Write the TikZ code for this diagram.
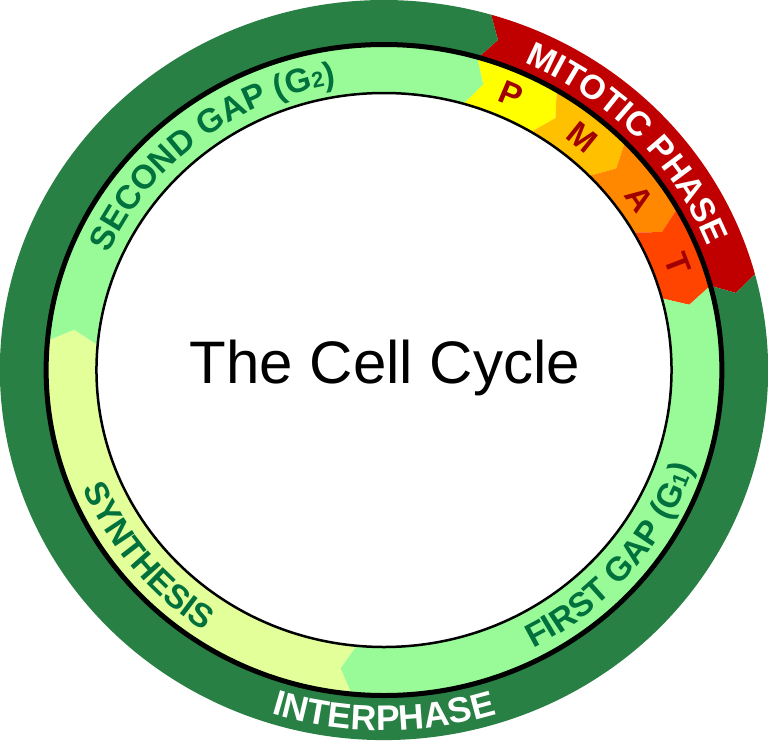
\documentclass[tikz,border=0pt]{standalone}
\usepackage{fontspec}
\setmainfont{Liberation Sans}
\usetikzlibrary{decorations.text}
\definecolor{dkgreen}{RGB}{41,128,69}
\definecolor{ltgreen}{RGB}{152,251,152}
\definecolor{sgreen}{RGB}{226,255,153}
\definecolor{mred}{RGB}{192,0,0}
\definecolor{pyel}{RGB}{255,255,0}
\definecolor{morange}{RGB}{255,192,0}
\definecolor{aorange}{RGB}{255,136,0}
\definecolor{tred}{RGB}{255,68,0}
\definecolor{txtgreen}{RGB}{0,112,60}
\definecolor{txtred}{RGB}{160,0,0}
\newcommand\outerfnt{\bfseries\fontsize{34}{34}\selectfont}
\newcommand\interfnt{\bfseries\fontsize{35.5}{35.5}\selectfont}
\newcommand\innerfnt{\bfseries\fontsize{33.5}{33.5}\selectfont}
\newcommand\innersub{\bfseries\fontsize{22}{22}\selectfont}
% color, start angle, end angle, inner r, outer r, tip
\newcommand\ringseg[6]{%
  \fill[#1] (#2:#5) arc[start angle=#2, end angle=#3, radius=#5]
    -- ({#3-#6}:{(#4+#5)/2}) -- (#3:#4)
    arc[start angle=#3, end angle=#2, radius=#4]
    -- ({#2-#6}:{(#4+#5)/2}) -- cycle;}
\tikzset{
  pmat/.style={font=\bfseries\fontsize{33}{33}\selectfont, text=txtred, inner sep=0pt},
  ringtext/.style={decorate, decoration={text along path, text align=center, text color=#1}},
  title/.style={font=\fontsize{60}{60}\selectfont, anchor=base, inner sep=0pt}
}
\begin{document}
\begin{tikzpicture}[x=1pt,y=1pt]
\useasboundingbox (-384,-370) rectangle (384,370);
\begin{scope}[xscale=1.038]
  % outer ring
  \ringseg{mred}{73.8}{15}{325.5}{370}{2.2}
  \ringseg{dkgreen}{15}{-286.2}{325.5}{370}{2.2}
  % inner ring
  \ringseg{pyel}{74}{59.25}{277}{325.5}{2.5}
  \ringseg{morange}{59.25}{44.5}{277}{325.5}{2.5}
  \ringseg{aorange}{44.5}{29.75}{277}{325.5}{2.5}
  \ringseg{tred}{29.75}{15}{277}{325.5}{2.5}
  \ringseg{ltgreen}{15}{-95.5}{277}{325.5}{2.5}
  \ringseg{sgreen}{-95.5}{-185.2}{277}{325.5}{2.5}
  \ringseg{ltgreen}{-185.2}{-286}{277}{325.5}{2.5}
  % borders
  \draw[line width=5pt] (0,0) circle[radius=325.5];
  \draw[line width=2.5pt, fill=white] (0,0) circle[radius=277];
  % ring texts
  \path[ringtext=white, decoration={text={|\outerfnt|MITOTIC PHASE}}]
    (83.7:335.6) arc[start angle=83.7, end angle=3.7, radius=335.6];
  \path[ringtext=white, decoration={text={|\interfnt|INTERPHASE}}]
    (-130:360.5) arc[start angle=-130, end angle=-50, radius=360.5];
  \path[ringtext=txtgreen, decoration={text={|\innerfnt|SECOND GAP (G|\innersub|2|\innerfnt|)}}]
    (173:289.3) arc[start angle=173, end angle=83, radius=289.3];
  \path[ringtext=txtgreen, decoration={text={|\innerfnt|SYNTHESIS}}]
    (179:313.2) arc[start angle=179, end angle=259, radius=313.2];
  \path[ringtext=txtgreen, decoration={text={|\innerfnt|FIRST GAP (G|\innersub|1|\innerfnt|)}}]
    (-85:313.2) arc[start angle=-85, end angle=5, radius=313.2];
  % mitotic sub-phases
  \node[pmat, rotate=-23] (p) at (66:302) {P};
  \node[pmat, rotate=-39] (m) at (50.7:301.25) {M};
  \node[pmat, rotate=-55] (a) at (34.8:300.5) {A};
  \node[pmat, rotate=-69] (t) at (20.6:302) {T};
\end{scope}
\node[title] (cellcycle) at (1,-13) {The Cell Cycle};
\end{tikzpicture}
\end{document}
